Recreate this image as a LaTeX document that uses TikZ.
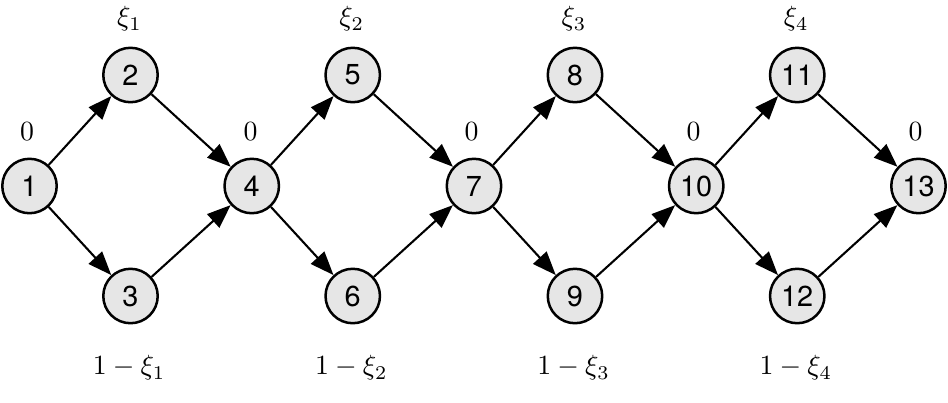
\documentclass[tikz,border=0pt]{standalone}
\usepackage{fontspec}
\newfontfamily\nodefont{TeX Gyre Heros}
\usetikzlibrary{arrows.meta}
\definecolor{nodefill}{RGB}{230,230,230}
\begin{document}
\begin{tikzpicture}[x=0.36pt,y=-0.36pt,
  vtx/.style={circle,draw,line width=0.9pt,fill=nodefill,minimum size=19.6pt,inner sep=0pt,font=\nodefont\fontsize{10.4}{12}\selectfont},
  arc/.style={line width=0.75pt,-{Triangle[length=8.5pt,width=6.5pt]}},
  lbl/.style={inner sep=0pt,font=\fontsize{10}{12}\selectfont}]
\useasboundingbox (0,0) rectangle (948,403);
% nodes
\node[vtx] (n1)  at (29.5,186) {1};
\node[vtx] (n2)  at (130.5,75) {2};
\node[vtx] (n3)  at (130.5,296) {3};
\node[vtx] (n4)  at (251.75,186) {4};
\node[vtx] (n5)  at (352.75,75) {5};
\node[vtx] (n6)  at (352.75,296) {6};
\node[vtx] (n7)  at (474,186) {7};
\node[vtx] (n8)  at (575,75) {8};
\node[vtx] (n9)  at (575,296) {9};
\node[vtx] (n10) at (696.25,186) {10};
\node[vtx] (n11) at (797.25,75) {11};
\node[vtx] (n12) at (797.25,296) {12};
\node[vtx] (n13) at (918.5,186) {13};
% arcs
\draw[arc] (n1) -- (n2);
\draw[arc] (n1) -- (n3);
\draw[arc] (n2) -- (n4);
\draw[arc] (n3) -- (n4);
\draw[arc] (n4) -- (n5);
\draw[arc] (n4) -- (n6);
\draw[arc] (n5) -- (n7);
\draw[arc] (n6) -- (n7);
\draw[arc] (n7) -- (n8);
\draw[arc] (n7) -- (n9);
\draw[arc] (n8) -- (n10);
\draw[arc] (n9) -- (n10);
\draw[arc] (n10) -- (n11);
\draw[arc] (n10) -- (n12);
\draw[arc] (n11) -- (n13);
\draw[arc] (n12) -- (n13);
% labels
\node[lbl] (t1) at (129.5,19) {$\xi_1$};
\node[lbl] (t2) at (351.75,19) {$\xi_2$};
\node[lbl] (t3) at (574,19) {$\xi_3$};
\node[lbl] (t4) at (796.25,19) {$\xi_4$};
\node[lbl] (z1) at (27,132) {$0$};
\node[lbl] (z4) at (250.5,132) {$0$};
\node[lbl] (z7) at (471.5,132) {$0$};
\node[lbl] (z10) at (693.5,132) {$0$};
\node[lbl] (z13) at (915.5,132) {$0$};
\node[lbl] (b1) at (129,368) {$1-\xi_1$};
\node[lbl] (b2) at (351.25,368) {$1-\xi_2$};
\node[lbl] (b3) at (573.5,368) {$1-\xi_3$};
\node[lbl] (b4) at (795.75,368) {$1-\xi_4$};
\end{tikzpicture}
\end{document}
